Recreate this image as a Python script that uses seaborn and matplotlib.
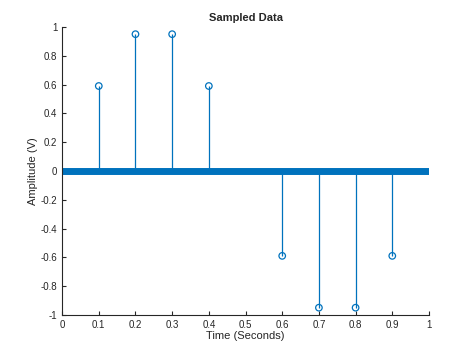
import numpy as np
import pandas as pd
import matplotlib
matplotlib.use('Agg')
import matplotlib.pyplot as plt
import seaborn as sns

sample_times = [0.1, 0.2, 0.3, 0.4, 0.6, 0.7, 0.8, 0.9]
sample_values = [0.59, 0.95, 0.95, 0.59, -0.59, -0.95, -0.95, -0.59]
## the dense run of zero samples forms a thick bar along y=0
zero_span = [0.0, 1.0]
zero_level = [0.0, 0.0]

x_ticks = [0, 0.1, 0.2, 0.3, 0.4, 0.5, 0.6, 0.7, 0.8, 0.9, 1]
y_ticks = [-1, -0.8, -0.6, -0.4, -0.2, 0, 0.2, 0.4, 0.6, 0.8, 1]

df = pd.DataFrame({'Time': sample_times, 'Amplitude': sample_values})
df_zero = pd.DataFrame({'Time': zero_span, 'Amplitude': zero_level})

sns.set_style('ticks')
plt.rcParams['font.family'] = ['Liberation Sans', 'DejaVu Sans']
blue = '#0072BD'

fig = plt.figure(figsize=(4.74, 3.55), dpi=100)
ax = fig.add_axes([0.131, 0.113, 0.774, 0.811])

ax.vlines(df.Time, 0, df.Amplitude, color=blue, linewidth=0.9)
sns.lineplot(data=df_zero, x='Time', y='Amplitude', ax=ax, color=blue,
             linewidth=5, solid_capstyle='round')
sns.scatterplot(data=df, x='Time', y='Amplitude', ax=ax, marker='o',
                s=22, facecolor='none', edgecolor=blue, linewidth=0.9)

ax.set_xlim(0, 1)
ax.set_ylim(-1, 1)
ax.set_xticks(x_ticks)
ax.set_xticklabels([str(t) for t in x_ticks])
ax.set_yticks(y_ticks)
ax.set_yticklabels([str(t) for t in y_ticks])
ax.tick_params(direction='in', length=3, width=0.8, labelsize=7, colors='#262626')
for s in ['top', 'right']:
    ax.spines[s].set_visible(False)
for s in ['left', 'bottom']:
    ax.spines[s].set_color('#262626')
    ax.spines[s].set_linewidth(0.8)

ax.set_xlabel('Time (Seconds)', fontsize=8, labelpad=1)
ax.set_ylabel('Amplitude (V)', fontsize=8, labelpad=2)
ax.set_title('Sampled Data', fontsize=8, fontweight='bold', pad=4)

fig.savefig('out.png', dpi=100)
